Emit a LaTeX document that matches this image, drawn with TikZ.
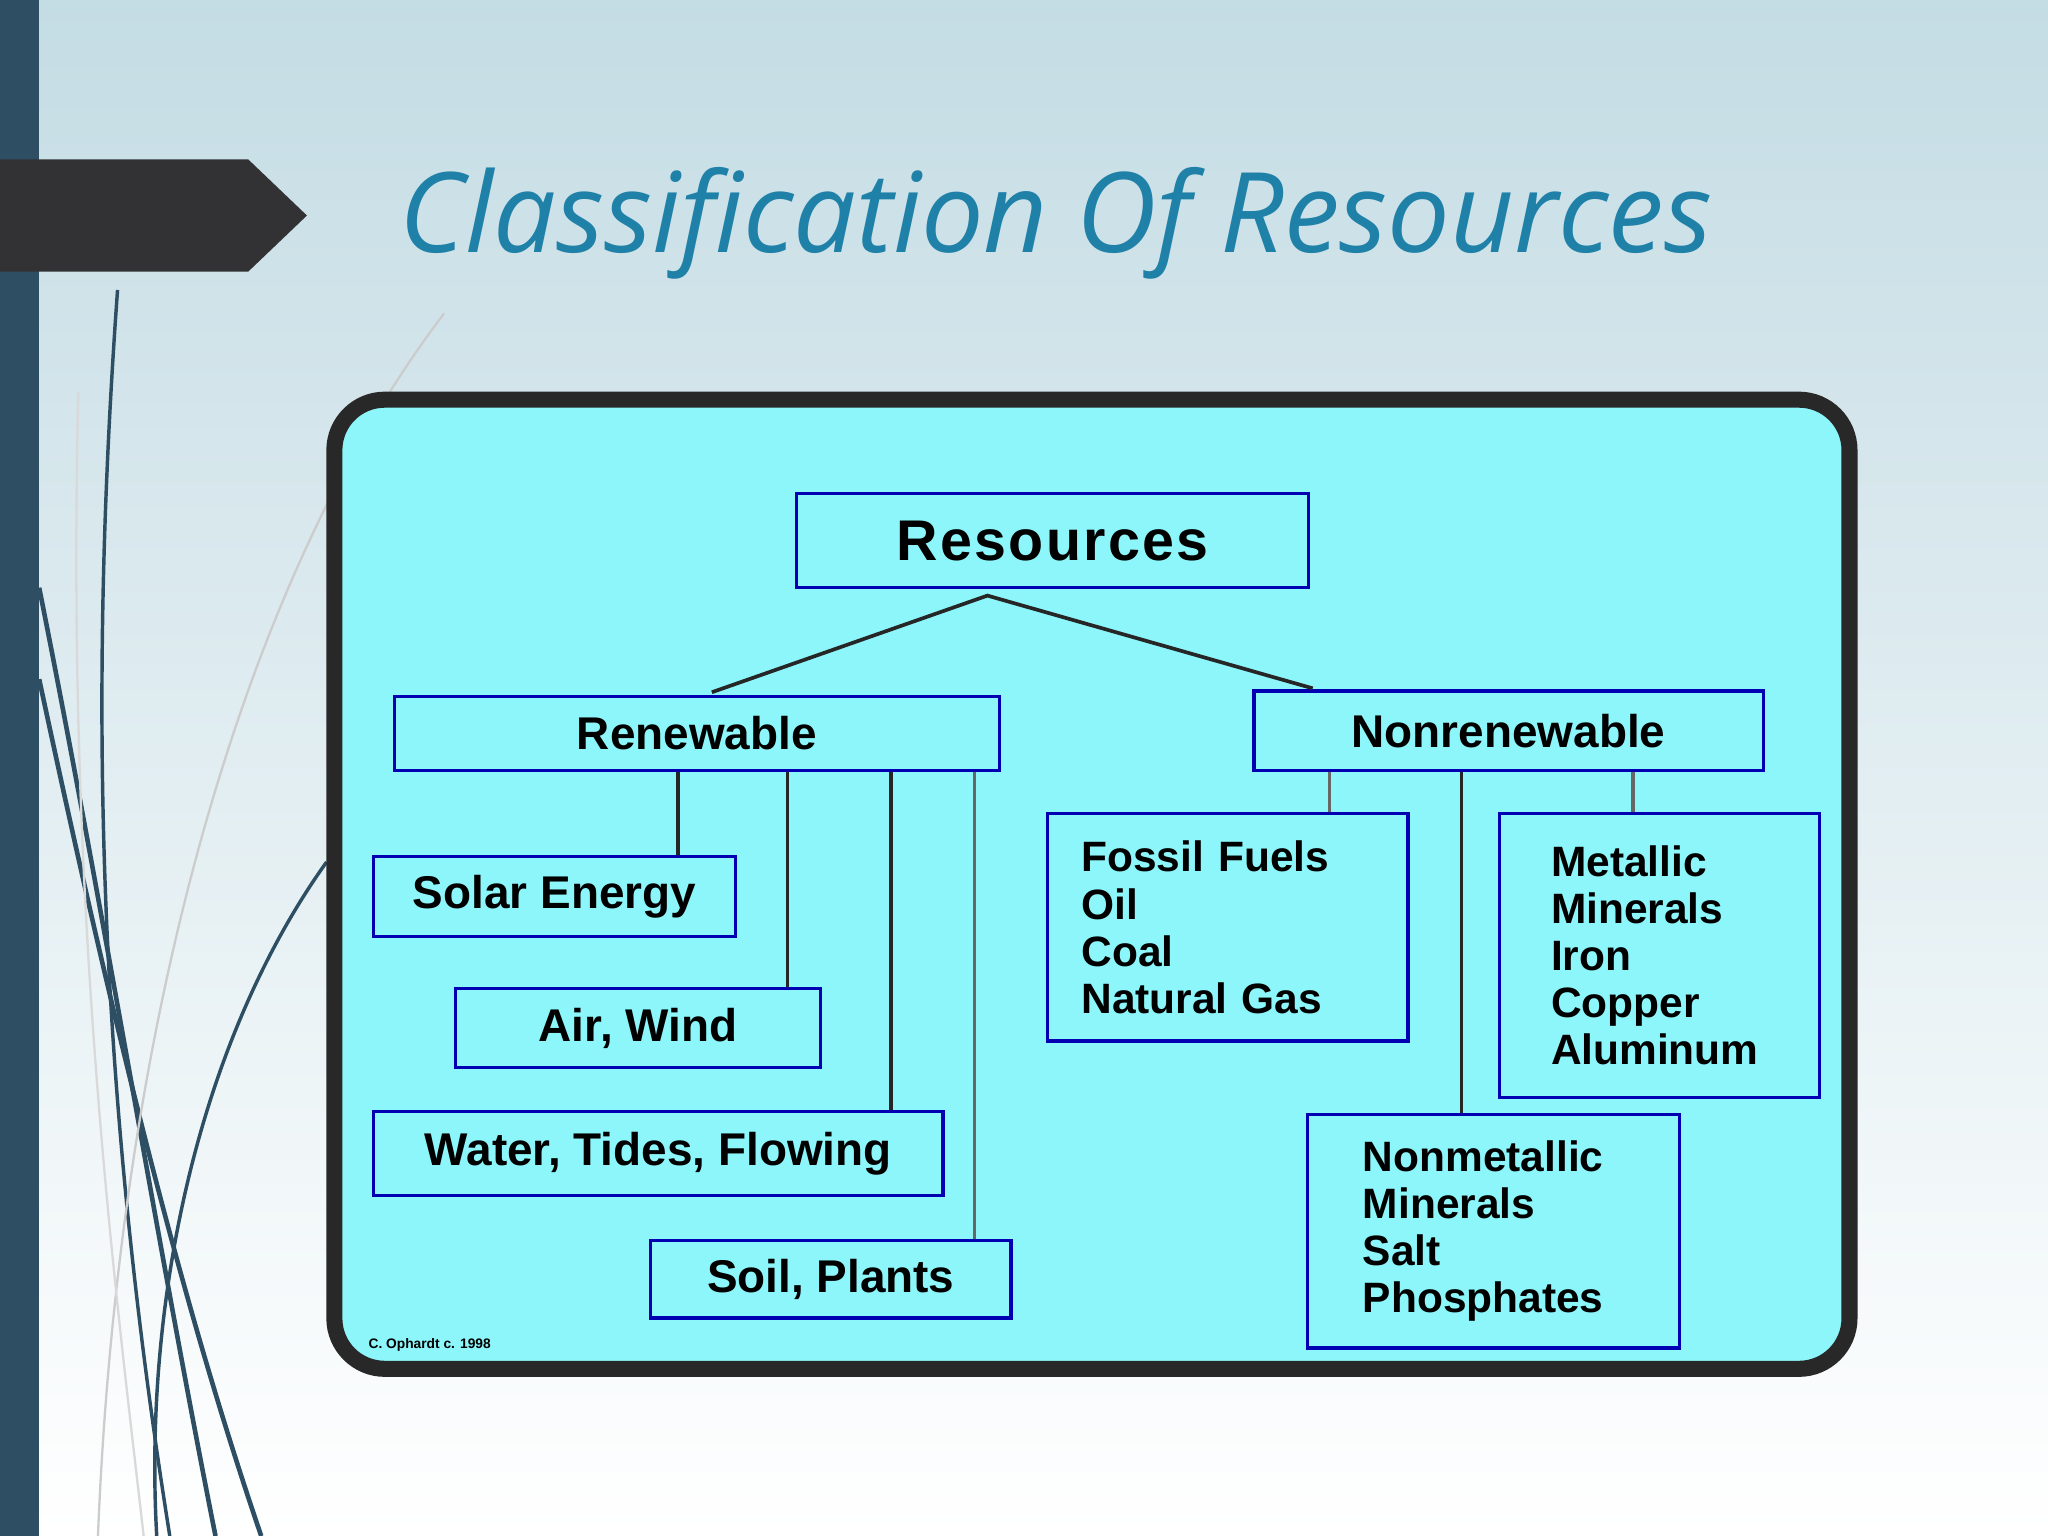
\documentclass[tikz,border=0pt]{standalone}
\usepackage{fontspec}
\setmainfont{Liberation Sans}
\newfontfamily\titlefont{Open Sans}
\definecolor{bgtop}{RGB}{196,220,228}
\definecolor{bar}{RGB}{45,78,99}
\definecolor{banner}{RGB}{50,50,52}
\definecolor{titlec}{RGB}{31,128,168}
\definecolor{panelb}{RGB}{40,40,40}
\definecolor{panelf}{RGB}{140,246,250}
\begin{document}
\begin{tikzpicture}[x=0.02cm,y=-0.02cm,
  box/.style={draw=blue!70!black,line width=1.4pt,inner sep=0pt,font=\bfseries\fontsize{20}{20}\selectfont},
  lst/.style={box,align=left,text width=#1,font=\bfseries\fontsize{18.5}{20.5}\selectfont},
  conn/.style={line width=1.6pt,black!85}]
\shade[top color=bgtop,bottom color=white] (0,0) rectangle (1568,1176);
\useasboundingbox (0,0) rectangle (1568,1176);
\fill[bar] (0,0) rectangle (30,1176);
\fill[banner] (0,122) -- (190,122) -- (235,165) -- (190,208) -- (0,208) -- cycle;
% decorative curves
\draw[bar,line width=2pt] (30,450) .. controls (80,700) and (120,950) .. (165,1176);
\draw[bar,line width=2pt] (30,520) .. controls (90,800) and (140,1000) .. (200,1176);
\draw[bar,line width=1.5pt] (90,222) .. controls (70,500) and (70,800) .. (130,1176);
\draw[bar,line width=1.5pt] (250,660) .. controls (150,800) and (110,1000) .. (120,1176);
\draw[gray!40,line width=1pt] (340,240) .. controls (180,450) and (90,800) .. (75,1176);
\draw[gray!30,line width=1pt] (60,300) .. controls (50,700) and (90,1000) .. (110,1176);
\node[anchor=base west,text=titlec,font=\titlefont\itshape\fontsize{48.5}{48.5}\selectfont] (title) at (300,193) {Classification Of Resources};
% panel
\draw[line width=7pt,draw=panelb,fill=panelf,rounded corners=22] (256,306) rectangle (1416,1048);
\node[box,minimum width=392*0.02cm,minimum height=72*0.02cm,font=\bfseries\fontsize{25}{25}\selectfont] (res) at (806,414) {R\kern1pt e\kern1pt s\kern1pt o\kern1pt u\kern1pt r\kern1pt c\kern1pt e\kern1pt s};
\node[box,minimum width=463*0.02cm,minimum height=57*0.02cm] (ren) at (533.5,561.5) {Renewable};
\node[box,minimum width=390*0.02cm,minimum height=61*0.02cm] (non) at (1155,559.5) {Nonrenewable};
\node[box,minimum width=277*0.02cm,minimum height=61*0.02cm] (solar) at (424.5,686.5) {Solar Energy};
\node[box,minimum width=279*0.02cm,minimum height=60*0.02cm] (air) at (488.5,787) {Air, Wind};
\node[box,minimum width=436*0.02cm,minimum height=64*0.02cm] (water) at (504,883) {Water, Tides, Flowing};
\node[box,minimum width=276*0.02cm,minimum height=59*0.02cm] (soil) at (636,979.5) {Soil, Plants};
\node[lst=224*0.02cm,minimum width=276*0.02cm,minimum height=174*0.02cm] (fossil) at (940,710) {Fossil Fuels\\Oil\\Coal\\Natural Gas};
\node[lst=166*0.02cm,minimum width=245*0.02cm,minimum height=217*0.02cm] (metal) at (1270.5,731.5) {Metallic\\Minerals\\Iron\\Copper\\Aluminum};
\node[lst=200*0.02cm,minimum width=285*0.02cm,minimum height=179*0.02cm] (nonmet) at (1143.5,942.5) {Nonmetallic\\Minerals\\Salt\\Phosphates};
\node[anchor=west,font=\bfseries\fontsize{6}{6}\selectfont] (copy) at (276,1030) {C. Ophardt c. 1998};
% connectors
\coordinate (apex) at (756,456);
\coordinate (rt) at (545,530);
\coordinate (nt) at (1005,527);
\draw[conn] (rt) -- (apex) -- (nt);
\foreach \x/\n/\c in {519/solar/black!85,603/air/black!85,682/water/black!85,746/soil/gray!80!black}
  \draw[conn,draw=\c] (ren.south -| \x,0) -- (\n.north -| \x,0);
\draw[conn,draw=gray!80!black] (non.south -| 1018,0) -- (fossil.north -| 1018,0);
\draw[conn] (non.south -| 1119,0) -- (nonmet.north -| 1119,0);
\draw[conn,draw=gray!80!black] (non.south -| 1250,0) -- (metal.north -| 1250,0);
\end{tikzpicture}
\end{document}
